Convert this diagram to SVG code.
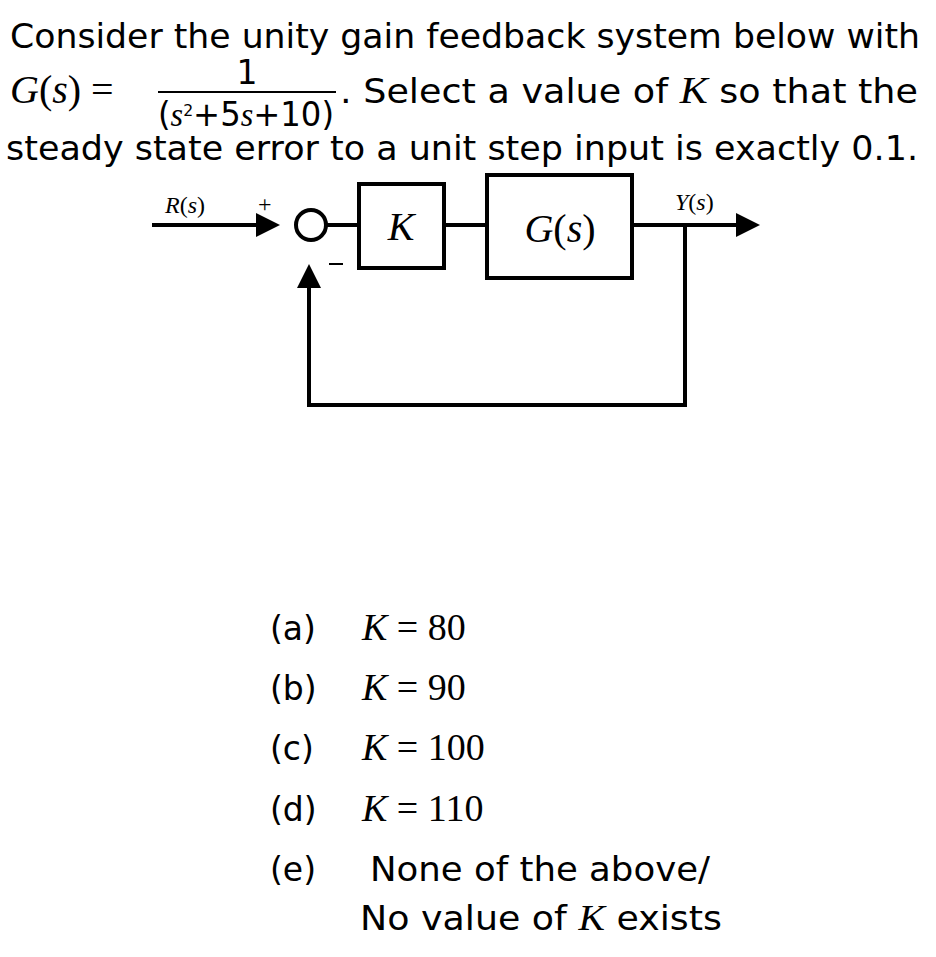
<svg xmlns="http://www.w3.org/2000/svg" width="936" height="957" viewBox="0 0 936 957">
<style>
.t{font-family:"DejaVu Sans","Liberation Sans",sans-serif;font-size:33px;fill:#000}
.m{font-family:"Liberation Serif","Times New Roman",serif;font-style:italic}
.r{font-family:"Liberation Serif","Times New Roman",serif}
.l{stroke:#000;stroke-width:4;fill:none}
</style>
<defs><marker id="a" markerWidth="6" markerHeight="6" refX="5" refY="3" orient="auto" markerUnits="strokeWidth"><path d="M0,0 L6,3 L0,6 z" fill="#000"/></marker></defs>
<rect width="936" height="957" fill="#fff"/>
<text class="t" x="10" y="48" textLength="910" lengthAdjust="spacingAndGlyphs">Consider the unity gain feedback system below with</text>
<text class="r" x="10" y="103" font-size="40"><tspan class="m">G</tspan>(<tspan class="m">s</tspan>) =</text>
<text class="t" x="247" y="84" font-size="24" text-anchor="middle">1</text>
<line x1="158" y1="92" x2="336" y2="92" stroke="#000" stroke-width="2"/>
<text class="t" x="158" y="126" font-size="24" textLength="176" lengthAdjust="spacingAndGlyphs">(<tspan class="m">s</tspan><tspan font-size="16" dy="-10">2</tspan><tspan dy="10">+5</tspan><tspan class="m">s</tspan>+10)</text>
<text class="t" x="340" y="103" textLength="578" lengthAdjust="spacingAndGlyphs">. Select a value of <tspan class="m" font-size="38">K</tspan> so that the</text>
<text class="t" x="6" y="160" textLength="912" lengthAdjust="spacingAndGlyphs">steady state error to a unit step input is exactly 0.1.</text>
<g id="labels" font-family="Liberation Serif,serif" font-size="24">
<text x="165" y="213"><tspan font-style="italic">R</tspan>(<tspan font-style="italic">s</tspan>)</text>
<text x="258" y="212" font-size="24">+</text>
<line x1="329" y1="264" x2="343" y2="264" stroke="#000" stroke-width="2"/>
<text x="675" y="210"><tspan font-style="italic">Y</tspan>(<tspan font-style="italic">s</tspan>)</text>
</g>
<g id="sum"><circle cx="311" cy="225" r="15" class="l"/></g>
<g id="K"><rect x="359" y="184" width="85" height="84" class="l"/><text x="401" y="240" text-anchor="middle" class="r" font-size="40" font-style="italic">K</text></g>
<g id="G"><rect x="487" y="175" width="145" height="103" class="l"/><text x="560" y="242" text-anchor="middle" class="r" font-size="40"><tspan font-style="italic">G</tspan>(<tspan font-style="italic">s</tspan>)</text></g>
<g id="connectors">
<line x1="152" y1="225" x2="276" y2="225" class="l" marker-end="url(#a)"/>
<line x1="326" y1="225" x2="359" y2="225" class="l"/>
<line x1="444" y1="225" x2="487" y2="225" class="l"/>
<line x1="632" y1="225" x2="756" y2="225" class="l" marker-end="url(#a)"/>
<polyline points="685,225 685,405 309,405 309,268" class="l" marker-end="url(#a)"/>
</g>
<g class="t">
<text x="270" y="640">(a)</text><text x="362" y="640" class="r" font-size="38"><tspan class="m">K</tspan> = 80</text>
<text x="270" y="700">(b)</text><text x="362" y="700" class="r" font-size="38"><tspan class="m">K</tspan> = 90</text>
<text x="270" y="760">(c)</text><text x="362" y="760" class="r" font-size="38"><tspan class="m">K</tspan> = 100</text>
<text x="270" y="821">(d)</text><text x="362" y="821" class="r" font-size="38"><tspan class="m">K</tspan> = 110</text>
<text x="270" y="881">(e)</text><text x="370" y="881" textLength="340" lengthAdjust="spacingAndGlyphs">None of the above/</text>
<text x="360" y="930" textLength="362" lengthAdjust="spacingAndGlyphs">No value of <tspan class="m" font-size="36">K</tspan> exists</text>
</g>
</svg>
